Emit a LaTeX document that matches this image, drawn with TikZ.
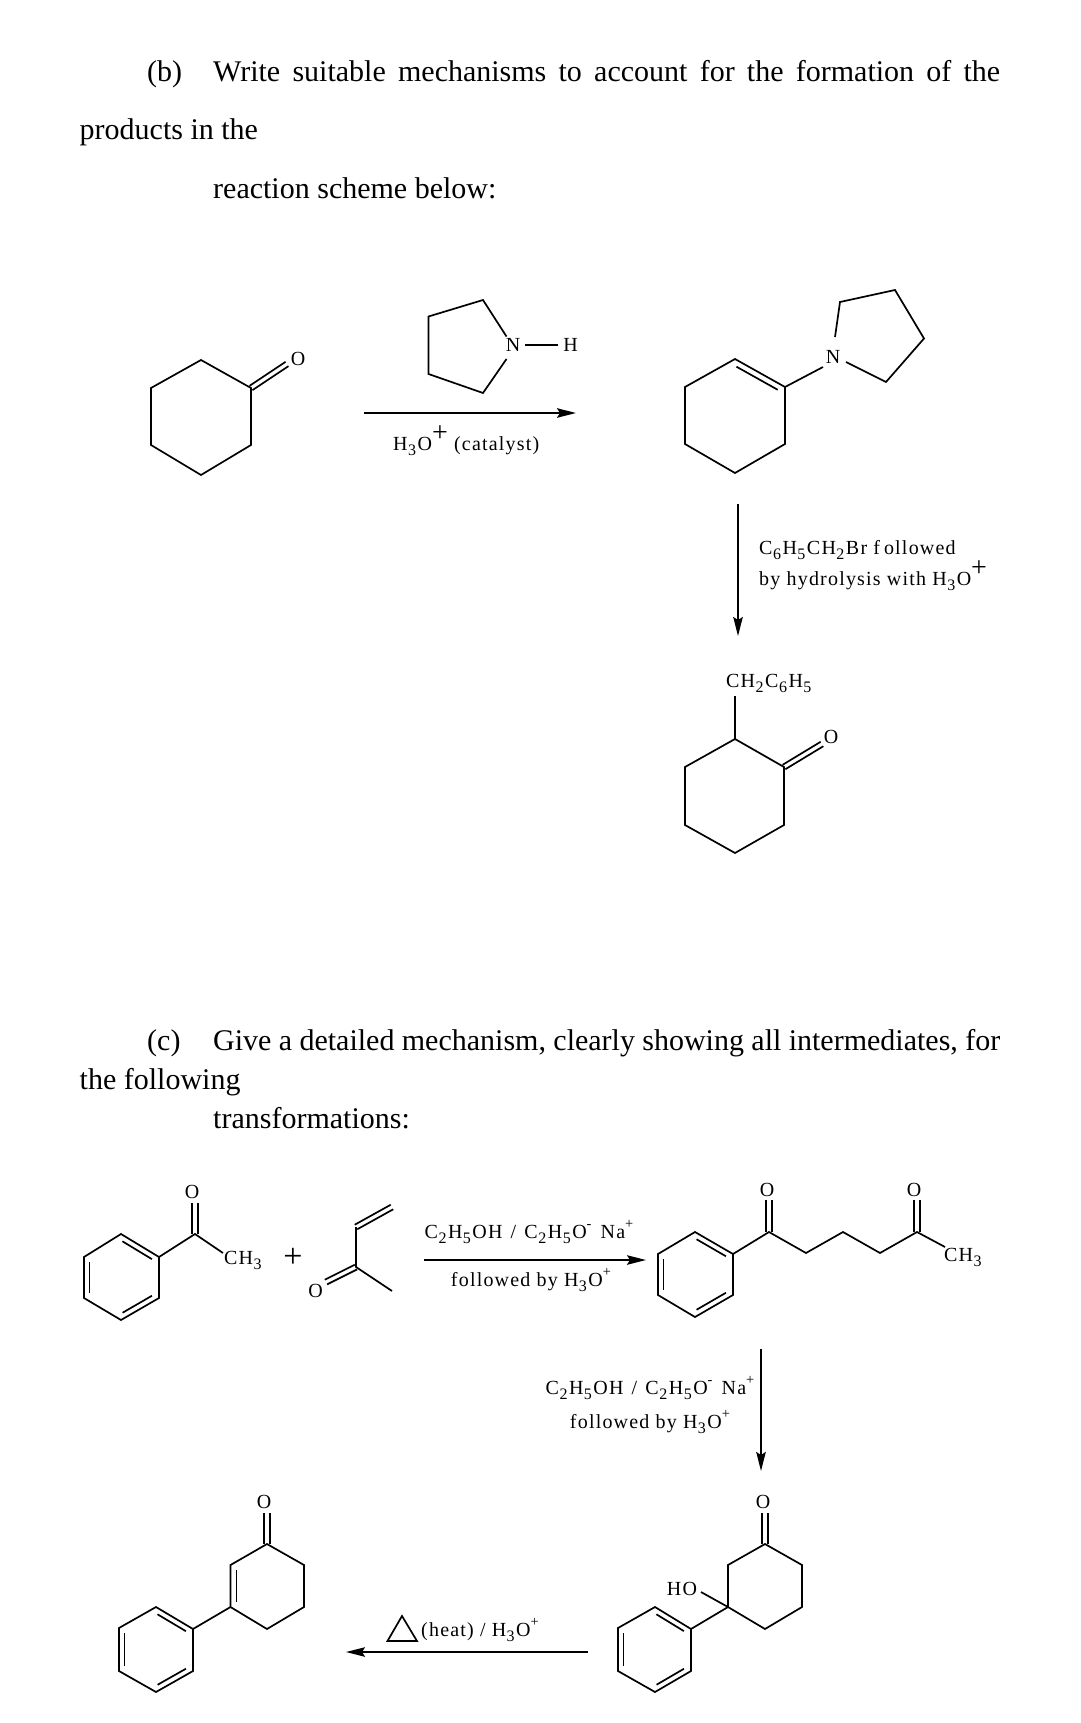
\documentclass[tikz,border=0pt]{standalone}
\usepackage{fontspec}
\setmainfont{Liberation Serif}
\usetikzlibrary{calc,arrows.meta}
\newcommand{\dn}[1]{\kern0.5pt\raisebox{-0.28em}{\scalebox{0.8}{#1}}\kern1.5pt}
\newcommand{\up}[1]{\raisebox{0.5em}{\scalebox{0.72}{#1}}}
\newcommand{\bigplus}{\raisebox{0.42em}{\fontsize{28}{28}\selectfont +}}
\newcommand{\dbl}[3]{\draw[bond,shorten >=5pt,shorten <=5pt] ($(#1)!#3!90:(#2)$) -- ($(#2)!#3!-90:(#1)$);}
\newcommand{\cdbl}[3]{\draw[bond] ($(#1)!#3!90:(#2)$) -- ($(#2)!#3!-90:(#1)$);\draw[bond] ($(#1)!#3!-90:(#2)$) -- ($(#2)!#3!90:(#1)$);}
\newcommand{\ring}[7]{\coordinate (#1a) at #2;\coordinate (#1b) at #3;\coordinate (#1c) at #4;\coordinate (#1d) at #5;\coordinate (#1e) at #6;\coordinate (#1f) at #7;
  \draw[bond,line join=miter] (#1a)--(#1b)--(#1c)--(#1d)--(#1e)--(#1f)--cycle;}
\tikzset{
  bond/.style={line width=1.7pt,black},
  rxn/.style={line width=1.8pt,black,-{Stealth[length=19pt,width=9.5pt,inset=3pt]}},
  body/.style={inner sep=0pt,anchor=base west,font=\fontsize{30}{30}\selectfont},
  atom/.style={inner sep=0pt,font=\fontsize{20}{20}\selectfont},
  label/.style={inner sep=0pt,font=\fontsize{20}{20}\selectfont\addfontfeature{LetterSpace=6}}
}
\begin{document}
\begin{tikzpicture}[x=1pt,y=-1pt]
\useasboundingbox (0,0) rectangle (1080,1723);
\fill[white] (0,0) rectangle (1080,1723);
% body text
\node[body] (tb) at (147,82) {(b)};
\node[body] (t1) at (213,82) {\makebox[787pt][s]{Write suitable mechanisms to account for the formation of the}};
\node[body] (t2) at (79.5,140) {products in the};
\node[body] (t3) at (213,199) {reaction scheme below:};
\node[body] (tc) at (147,1050) {(c)};
\node[body] (t4) at (213,1050) {\makebox[787pt][s]{Give a detailed mechanism, clearly showing all intermediates, for}};
\node[body] (t5) at (79.5,1089) {the following};
\node[body] (t6) at (213,1128) {transformations:};
% cyclohexanone
\ring{A}{(201,360)}{(251,388)}{(251,445)}{(201,475)}{(151,445)}{(151,388)}
\node[atom] (Ao) at (298,359) {O};
\coordinate (Aox) at (287,364);
\cdbl{Ab}{Aox}{2.6pt}
% pyrrolidine
\node[atom] (Bn) at (513,345) {N};
\node[atom] (Bh) at (570.5,345) {H};
\coordinate (B1) at (483,300);\coordinate (B2) at (428.5,316.5);\coordinate (B3) at (428.5,374);\coordinate (B4) at (483,393);
\coordinate (Bn1) at (506.5,336.5);\coordinate (Bn2) at (506.5,359);
\draw[bond] (Bn1)--(B1)--(B2)--(B3)--(B4)--(Bn2);
\draw[bond,line width=2pt] (Bn.east)++(5pt,0) coordinate (Bs) (Bh.west)++(-5pt,0) coordinate (Be);
\draw[bond,line width=2pt] (Bs)--(Be);
% arrow 1
\coordinate (R1s) at (364,413);\coordinate (R1e) at (576,413);
\draw[rxn] (R1s)--(R1e);
\node[label,anchor=base west] (R1l) at (393,450) {H\dn{3}O\bigplus\ (catalyst)};
% enamine
\ring{C}{(735,359)}{(785,387)}{(785,444)}{(735,473)}{(685,444)}{(685,387)}
\dbl{Ca}{Cb}{-6pt}
\node[atom] (Cn) at (833,357) {N};
\coordinate (Cnb) at (823,367);
\draw[bond] (Cb)--(Cnb);
\coordinate (C1) at (835,337);\coordinate (C2) at (840,302);\coordinate (C3) at (895,290);\coordinate (C4) at (924,338.5);\coordinate (C5) at (886,382);\coordinate (C6) at (846,362);
\draw[bond] (C1)--(C2)--(C3)--(C4)--(C5)--(C6);
% arrow 2
\coordinate (R2s) at (738,504);\coordinate (R2e) at (738,636);
\draw[rxn] (R2s)--(R2e);
\node[label,anchor=base west] (R2a) at (759,554) {C\dn{6}H\dn{5}CH\dn{2}Br f\kern4pt ollowed};
\node[label,anchor=base west] (R2b) at (759,585) {by hydrolysis with H\dn{3}O\bigplus};
% benzylcyclohexanone
\node[label,anchor=base west] (Dt) at (726,687) {CH\dn{2}C\dn{6}H\dn{5}};
\ring{D}{(735,739)}{(784,767)}{(784,825)}{(735,853)}{(685,825)}{(685,767)}
\coordinate (Dts) at (735,696);
\draw[bond] (Da)--(Dts);
\node[atom] (Do) at (831,737) {O};
\coordinate (Dox) at (822,744);
\cdbl{Db}{Dox}{2.6pt}
% acetophenone
\ring{E}{(121,1234)}{(159,1257)}{(159,1298)}{(121,1320)}{(84,1298)}{(84,1257)}
\dbl{Ea}{Eb}{-5.5pt}\dbl{Ec}{Ed}{-5.5pt}\dbl{Ee}{Ef}{-5.5pt}
\coordinate (Ec1) at (195,1234);\coordinate (Ec2) at (223,1253);\coordinate (Eox) at (195,1203);
\draw[bond] (Eb)--(Ec1)--(Ec2);
\cdbl{Ec1}{Eox}{3pt}
\node[atom] (Eo) at (192,1192) {O};
\node[label,anchor=base west] (Ech) at (224,1264) {CH\dn{3}};
\node[inner sep=0pt,font=\fontsize{34}{34}\selectfont] (Pl) at (293,1258) {+};
% MVK
\coordinate (F1) at (356,1227);\coordinate (F2) at (392,1207);\coordinate (F3) at (356,1267);\coordinate (F4) at (392,1291);\coordinate (Fox) at (326,1282);
\draw[bond] (F1)--(F3)--(F4);
\cdbl{F1}{F2}{2.6pt}
\cdbl{F3}{Fox}{2.6pt}
\node[atom] (Fo) at (315.5,1291) {O};
% arrow 3
\coordinate (R3s) at (424,1260);\coordinate (R3e) at (646,1260);
\draw[rxn] (R3s)--(R3e);
\node[label,anchor=base] (R3a) at (529,1238) {C\dn{2}H\dn{5}OH\hspace{2pt} / \hspace{2pt}C\dn{2}H\dn{5}O\up{-}\hspace{3pt} Na\up{+}};
\node[label,anchor=base] (R3b) at (531,1286) {followed by H\dn{3}O\up{+}};
% diketone
\ring{G}{(695,1232)}{(733,1254)}{(733,1295)}{(695,1317)}{(658,1295)}{(658,1254)}
\dbl{Ga}{Gb}{-5.5pt}\dbl{Gc}{Gd}{-5.5pt}\dbl{Ge}{Gf}{-5.5pt}
\coordinate (G1) at (769,1232);\coordinate (G2) at (806,1253);\coordinate (G3) at (843,1232);\coordinate (G4) at (880,1253);\coordinate (G5) at (917,1232);\coordinate (G6) at (945,1247);
\draw[bond] (Gb)--(G1)--(G2)--(G3)--(G4)--(G5)--(G6);
\coordinate (Go1x) at (769,1200);\coordinate (Go2x) at (917,1200);
\cdbl{G1}{Go1x}{3pt}\cdbl{G5}{Go2x}{3pt}
\node[atom] (Go1) at (767,1190) {O};
\node[atom] (Go2) at (914,1190) {O};
\node[label,anchor=base west] (Gch) at (944,1261) {CH\dn{3}};
% arrow 4
\coordinate (R4st) at (761,1349);\coordinate (R4et) at (761,1471);
\draw[rxn] (R4st)--(R4et);
\node[label,anchor=base] (R4a) at (650,1394) {C\dn{2}H\dn{5}OH\hspace{2pt} / \hspace{2pt}C\dn{2}H\dn{5}O\up{-}\hspace{3pt} Na\up{+}};
\node[label,anchor=base] (R4b) at (650,1428) {followed by H\dn{3}O\up{+}};
% hydroxy ketone
\ring{H}{(765,1544)}{(802,1565)}{(802,1607)}{(765,1629)}{(728,1607)}{(728,1565)}
\coordinate (Hox) at (765,1513);
\cdbl{Ha}{Hox}{3pt}
\node[atom] (Ho) at (763,1502) {O};
\node[label] (Hho) at (682,1589) {HO};
\coordinate (Hhb) at (701,1592);
\draw[bond] (He)--(Hhb);
\ring{I}{(655,1607)}{(691,1629)}{(691,1671)}{(655,1692)}{(618,1671)}{(618,1628)}
\dbl{Ia}{Ib}{-5.5pt}\dbl{Ic}{Id}{-5.5pt}\dbl{Ie}{If}{-5.5pt}
\draw[bond] (Ib)--(He);
% arrow 5
\coordinate (R5s) at (588,1652);\coordinate (R5e) at (346,1652);
\draw[rxn] (R5s)--(R5e);
\coordinate (Tr1) at (402,1616);\coordinate (Tr2) at (387.5,1641);\coordinate (Tr3) at (417,1641);
\draw[bond,line join=miter] (Tr1)--(Tr2)--(Tr3)--cycle;
\node[label,anchor=base west] (R5l) at (421,1636) {(heat) / H\dn{3}O\up{+}};
% enone
\ring{J}{(267,1544)}{(304,1565)}{(304,1607)}{(267,1629)}{(230.5,1607)}{(230.5,1565)}
\dbl{Je}{Jf}{-6pt}
\coordinate (Jox) at (267,1513);
\cdbl{Ja}{Jox}{3pt}
\node[atom] (Jo) at (264,1502) {O};
\ring{K}{(156,1607)}{(193,1629)}{(193,1671)}{(156,1692)}{(119,1671)}{(119,1628)}
\dbl{Ka}{Kb}{-5.5pt}\dbl{Kc}{Kd}{-5.5pt}\dbl{Ke}{Kf}{-5.5pt}
\draw[bond] (Kb)--(Je);
\end{tikzpicture}
\end{document}
